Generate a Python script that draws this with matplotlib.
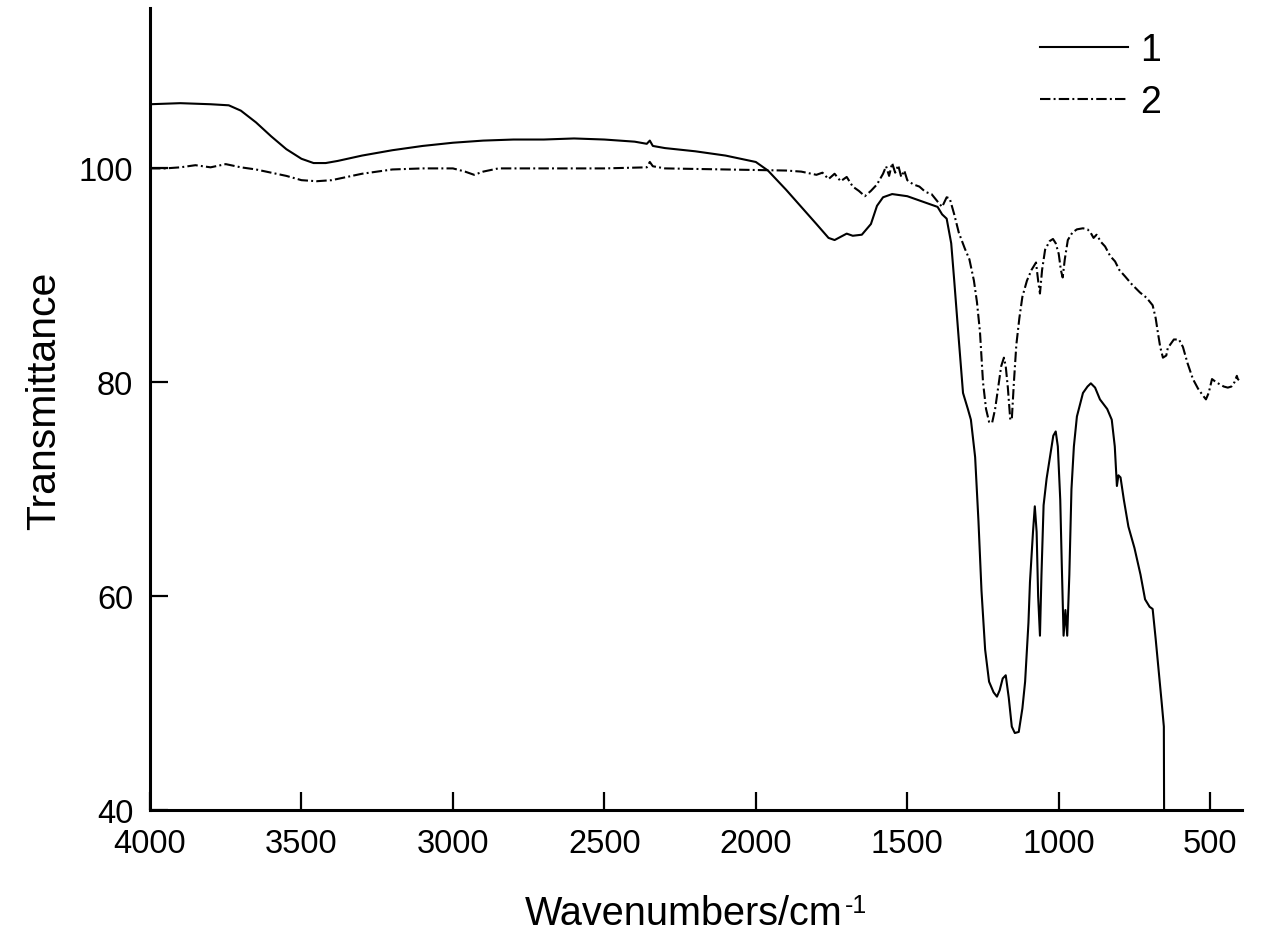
import matplotlib
matplotlib.use("Agg")
import matplotlib.pyplot as plt

plt.rcParams['font.family'] = ['Liberation Sans', 'DejaVu Sans']
plt.rcParams['lines.scale_dashes'] = False

# Curve 1 (solid)
wn1 = [4000, 3900, 3800, 3740, 3700, 3650, 3600, 3550, 3500, 3460, 3420, 3380, 3300, 3200,
       3100, 3000, 2900, 2800, 2700, 2600, 2500, 2400, 2360, 2350, 2340, 2300, 2200, 2100,
       2000, 1960, 1900, 1850, 1800, 1760, 1740, 1720, 1700, 1680, 1650, 1620, 1600, 1580,
       1550, 1500, 1450, 1400, 1385, 1370, 1355, 1345, 1330, 1316, 1300, 1290, 1276, 1265,
       1255, 1243, 1230, 1215, 1204, 1195, 1185, 1175, 1165, 1155, 1145, 1132, 1120, 1111,
       1100, 1095, 1085, 1079, 1073, 1068, 1062, 1057, 1050, 1040, 1029, 1018, 1010, 1003,
       995, 990, 984, 978, 972, 965, 958, 950, 940, 920, 905, 894, 880, 864, 840, 825, 815,
       808, 803, 796, 785, 770, 750, 730, 715, 700, 690, 680, 670, 660, 653, 652]
t1 = [106.0, 106.1, 106.0, 105.9, 105.4, 104.3, 103.0, 101.8, 100.9, 100.5, 100.5, 100.7, 101.2, 101.7,
      102.1, 102.4, 102.6, 102.7, 102.7, 102.8, 102.7, 102.5, 102.3, 102.6, 102.1, 101.9, 101.6, 101.2,
      100.6, 99.8, 98.0, 96.4, 94.8, 93.5, 93.3, 93.6, 93.9, 93.7, 93.8, 94.8, 96.5, 97.3,
      97.6, 97.4, 96.9, 96.4, 95.7, 95.3, 93.0, 89.5, 84.0, 79.0, 77.5, 76.5, 73.0, 67.0,
      60.5, 55.0, 52.0, 51.0, 50.6, 51.2, 52.3, 52.6, 50.5, 47.8, 47.2, 47.3, 49.5, 52.0,
      57.5, 61.3, 66.0, 68.4, 66.0, 60.0, 56.3, 62.0, 68.5, 71.0, 73.0, 75.0, 75.4, 74.0,
      69.0, 63.0, 56.3, 58.7, 56.3, 62.0, 70.0, 74.0, 76.8, 79.0, 79.6, 79.9, 79.5, 78.4, 77.5, 76.5, 74.0,
      70.3, 71.3, 71.1, 69.0, 66.5, 64.5, 62.0, 59.7, 59.0, 58.8, 56.0, 53.0, 50.0, 47.8, 38.0]

# Curve 2 (dash-dot)
wn2 = [4000, 3950, 3900, 3850, 3800, 3750, 3700, 3650, 3600, 3550, 3500, 3450, 3400, 3350, 3300,
       3200, 3100, 3000, 2960, 2930, 2900, 2850, 2700, 2500, 2360, 2350, 2340, 2300, 2100, 1900,
       1850, 1800, 1780, 1760, 1740, 1720, 1700, 1680, 1660, 1640, 1620, 1600, 1580, 1570, 1560,
       1550, 1540, 1530, 1520, 1510, 1500, 1480, 1460, 1440, 1420, 1400, 1385, 1370, 1360, 1345,
       1330, 1310, 1295, 1280, 1270, 1260, 1250, 1240, 1230, 1220, 1210, 1200, 1190, 1181, 1175,
       1168, 1160, 1155, 1148, 1140, 1130, 1120, 1105, 1090, 1075, 1068, 1062, 1055, 1045, 1030,
       1019, 1010, 1000, 993, 987, 980, 970, 955, 940, 920, 905, 895, 885, 875, 860, 847, 830,
       814, 800, 781, 760, 732, 710, 690, 680, 673, 665, 656, 645, 640, 620, 603, 590, 575, 557,
       540, 525, 514, 505, 494, 480, 468, 455, 442, 430, 420, 412, 409, 405]
t2 = [100.0, 100.0, 100.1, 100.3, 100.1, 100.4, 100.1, 99.9, 99.6, 99.3, 98.9, 98.8, 98.9, 99.2, 99.5,
      99.9, 100.0, 100.0, 99.7, 99.4, 99.7, 100.0, 100.0, 100.0, 100.1, 100.6, 100.2, 100.0, 99.9, 99.8,
      99.7, 99.4, 99.6, 99.0, 99.5, 98.8, 99.2, 98.3, 97.9, 97.4, 97.9, 98.5, 99.5, 100.2, 99.3,
      100.5, 99.6, 100.3, 99.2, 99.8, 98.9, 98.5, 98.3, 97.8, 97.6, 96.9, 96.4, 97.3, 97.2, 95.7,
      94.0, 92.5, 91.5, 89.5, 87.5, 84.7, 80.0, 77.5, 76.3, 76.2, 77.5, 79.5, 81.5, 82.3, 81.5,
      79.5, 76.5, 76.5, 80.0, 83.5, 86.0, 88.0, 89.5, 90.5, 91.2, 89.5, 88.3, 90.5, 92.4, 93.2,
      93.4, 93.0, 92.0, 90.5, 89.8, 91.5, 93.3, 94.0, 94.3, 94.4, 94.3, 94.0, 93.5, 93.8, 93.1, 92.7, 91.8,
      91.3, 90.5, 89.9, 89.2, 88.4, 87.9, 87.2, 86.0, 84.7, 83.3, 82.3, 82.5, 83.2, 84.0, 84.0, 83.3, 81.8, 80.3,
      79.4, 78.8, 78.4, 79.0, 80.3, 80.0, 79.8, 79.6, 79.5, 79.6, 80.0, 80.6, 80.3, 80.2]

xticks = [4000, 3500, 3000, 2500, 2000, 1500, 1000, 500]
yticks = [40, 60, 80, 100]
labels = ['1', '2']

W, H = 1284, 945
fig = plt.figure(figsize=(W / 100, H / 100), dpi=100)
ax = fig.add_axes([150/W, 1 - 811/H, (1242-150)/W, (811-9)/H])

ax.plot(wn1, t1, color='black', lw=1.5, label=labels[0])
ax.plot(wn2, t2, color='black', lw=1.5, linestyle=(0, (7.5, 2.3, 1.4, 2.3)), label=labels[1])

ax.set_xlim(4000, 395)
ax.set_ylim(40, 115)
ax.set_xticks(xticks)
ax.set_yticks(yticks)
ax.set_xticklabels([str(v) for v in xticks])
ax.set_yticklabels([str(v) for v in yticks])

for s in ['top', 'right']:
    ax.spines[s].set_visible(False)
for s in ['left', 'bottom']:
    ax.spines[s].set_linewidth(2.2)

ax.tick_params(direction='in', length=13, width=1.6, labelsize=23.5)
ax.tick_params(axis='x', pad=13)
ax.tick_params(axis='y', pad=12)

# axis titles
xl = fig.text(525/W, 1 - 925/H, 'Wavenumbers/cm', fontsize=28.5, ha='left', va='baseline')
yl = fig.text(44/W, 1 - 401/H, 'Transmittance', fontsize=29.5, rotation=90,
              ha='center', va='center')
fig.canvas.draw()
bb = xl.get_window_extent()
fig.text((bb.x1 + 2) / W, 1 - 913/H, '-1', fontsize=18, ha='left', va='baseline')

leg = ax.legend(loc='upper left', bbox_to_anchor=(1040/W, 1 - 33/H),
                bbox_transform=fig.transFigure, frameon=False, fontsize=27,
                handlelength=2.35, handletextpad=0.32, labelspacing=0.43,
                borderpad=0, borderaxespad=0)

fig.savefig('out.png', dpi=100)
